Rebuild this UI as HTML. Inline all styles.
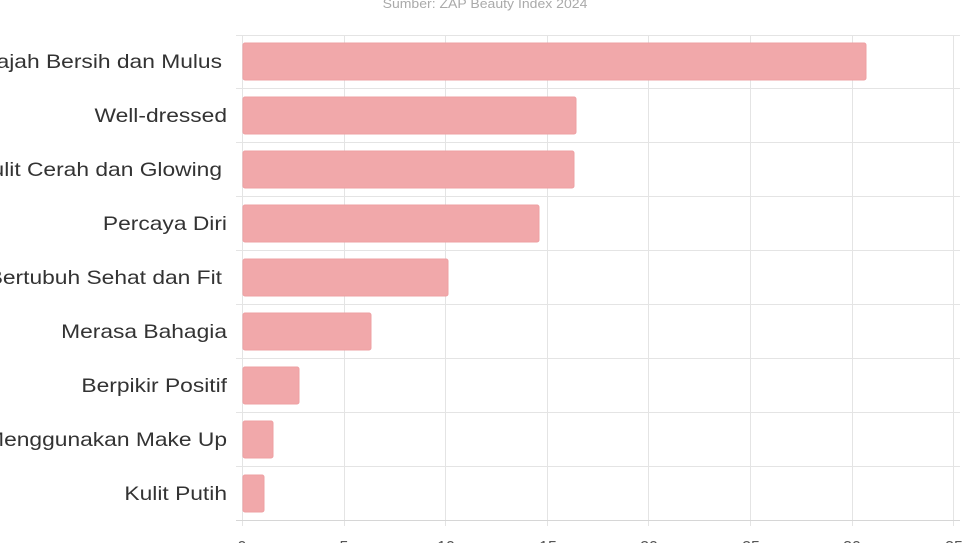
<!DOCTYPE html>
<html><head><style>
html,body{margin:0;padding:0;background:#fff;}
svg{display:block;font-family:"Liberation Sans",sans-serif;}
</style></head><body>
<svg width="968" height="543" viewBox="0 0 968 543">
<text x="485" y="8" text-anchor="middle" font-size="13" fill="#aaa" transform="translate(485,0) scale(1.08,1) translate(-485,0)">Sumber: ZAP Beauty Index 2024</text>
<g stroke="#e4e4e4" stroke-width="1">
<line x1="242.5" y1="35" x2="242.5" y2="526"/>
<line x1="344.5" y1="35" x2="344.5" y2="526"/>
<line x1="445.5" y1="35" x2="445.5" y2="526"/>
<line x1="547.5" y1="35" x2="547.5" y2="526"/>
<line x1="648.5" y1="35" x2="648.5" y2="526"/>
<line x1="750.5" y1="35" x2="750.5" y2="526"/>
<line x1="852.5" y1="35" x2="852.5" y2="526"/>
<line x1="953.5" y1="35" x2="953.5" y2="526"/>
<line x1="236" y1="35.5" x2="960" y2="35.5"/>
<line x1="236" y1="88.5" x2="960" y2="88.5"/>
<line x1="236" y1="142.5" x2="960" y2="142.5"/>
<line x1="236" y1="196.5" x2="960" y2="196.5"/>
<line x1="236" y1="250.5" x2="960" y2="250.5"/>
<line x1="236" y1="304.5" x2="960" y2="304.5"/>
<line x1="236" y1="358.5" x2="960" y2="358.5"/>
<line x1="236" y1="412.5" x2="960" y2="412.5"/>
<line x1="236" y1="466.5" x2="960" y2="466.5"/>
</g>
<line x1="236" y1="520.5" x2="960" y2="520.5" stroke="#d6d6d6"/>
<g fill="#f1a8aa" stroke="#eea0a3" stroke-width="1">
<rect x="243" y="43" width="623" height="37" rx="2"/>
<rect x="243" y="97" width="333" height="37" rx="2"/>
<rect x="243" y="151" width="331" height="37" rx="2"/>
<rect x="243" y="205" width="296" height="37" rx="2"/>
<rect x="243" y="259" width="205" height="37" rx="2"/>
<rect x="243" y="313" width="128" height="37" rx="2"/>
<rect x="243" y="367" width="56" height="37" rx="2"/>
<rect x="243" y="421" width="30" height="37" rx="2"/>
<rect x="243" y="475" width="21" height="37" rx="2"/>
</g>
<g font-size="19" fill="#333" text-anchor="end">
<g transform="translate(222,0) scale(1.2,1)"><text x="0" y="68">Wajah Bersih dan Mulus</text></g>
<g transform="translate(227,0) scale(1.2,1)"><text x="0" y="122">Well-dressed</text></g>
<g transform="translate(222,0) scale(1.2,1)"><text x="0" y="176">Kulit Cerah dan Glowing</text></g>
<g transform="translate(227,0) scale(1.2,1)"><text x="0" y="230">Percaya Diri</text></g>
<g transform="translate(222,0) scale(1.2,1)"><text x="0" y="284">Bertubuh Sehat dan Fit</text></g>
<g transform="translate(227,0) scale(1.2,1)"><text x="0" y="338">Merasa Bahagia</text></g>
<g transform="translate(227,0) scale(1.2,1)"><text x="0" y="392">Berpikir Positif</text></g>
<g transform="translate(227,0) scale(1.2,1)"><text x="0" y="446">Menggunakan Make Up</text></g>
<g transform="translate(227,0) scale(1.2,1)"><text x="0" y="500">Kulit Putih</text></g>
</g>
<g font-size="16" fill="#555" text-anchor="middle">
<text x="242" y="552">0</text><text x="344" y="552">5</text><text x="446" y="552">10</text>
<text x="548" y="552">15</text><text x="649" y="552">20</text><text x="751" y="552">25</text>
<text x="852" y="552">30</text><text x="954" y="552">35</text>
</g>
</svg>
</body></html>
